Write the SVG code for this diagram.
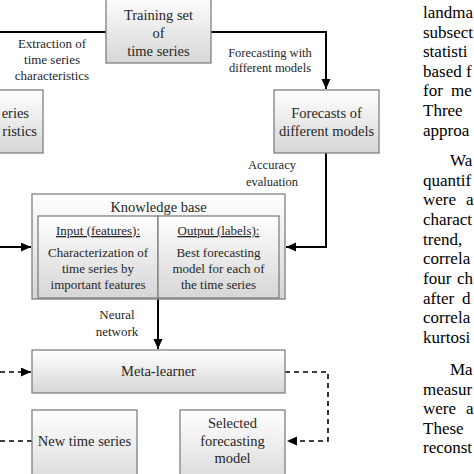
<svg xmlns="http://www.w3.org/2000/svg" width="474" height="474" viewBox="0 0 474 474">
<defs>
<linearGradient id="g" x1="0" y1="0" x2="0" y2="1">
<stop offset="0" stop-color="#ffffff"/>
<stop offset="1" stop-color="#d6d6d6"/>
</linearGradient>
<marker id="ah" markerUnits="userSpaceOnUse" markerWidth="11" markerHeight="10" refX="10" refY="4.5" orient="auto">
<path d="M0,0 L10,4.5 L0,9 Z" fill="#000"/>
</marker>
<style>
.box{fill:url(#g);stroke:#808080;stroke-width:1.3}
.t{font-family:"Liberation Serif","Times New Roman",serif;fill:#262626;text-anchor:middle}
.e{text-anchor:end}
.b{font-size:14.5px}
.s{font-size:13px}
.l{font-size:13px}
.c{fill:none;stroke:#000;stroke-width:2}
.d{fill:none;stroke:#000;stroke-width:1.6;stroke-dasharray:5,4}
.p{font-family:"Liberation Serif","Times New Roman",serif;font-size:17px;fill:#000}
</style>
</defs>
<rect width="474" height="474" fill="#fff"/>

<g id="connectors">
<path class="c" d="M106,32 H0"/>
<path class="c" d="M211,32 H326 V89" marker-end="url(#ah)"/>
<path class="c" d="M326,153 V247 H286" marker-end="url(#ah)"/>
<path class="c" d="M0,247 H31" marker-end="url(#ah)"/>
<path class="c" d="M158,287 V349" marker-end="url(#ah)"/>
<path class="d" d="M0,372 H31" marker-end="url(#ah)"/>
<path class="d" d="M285,372 H328 V441 H287" marker-end="url(#ah)"/>
<path class="d" d="M0,441 H32"/>
<text class="t l" x="52" y="48">Extraction of</text>
<text class="t l" x="52" y="64">time series</text>
<text class="t l" x="52" y="80">characteristics</text>
<text class="t" style="font-size:12.5px" x="270" y="57">Forecasting with</text>
<text class="t" style="font-size:12.5px" x="270" y="72">different models</text>
<text class="t" style="font-size:12.5px" x="272" y="169">Accuracy</text>
<text class="t" style="font-size:12.5px" x="272" y="186">evaluation</text>
<text class="t l" x="117" y="319">Neural</text>
<text class="t l" x="117" y="336">network</text>
</g>

<g id="training-set">
<rect class="box" x="106" y="-6" width="105" height="69"/>
<text class="t b" x="158.5" y="20">Training set</text>
<text class="t b" x="158.5" y="38">of</text>
<text class="t b" x="158.5" y="56">time series</text>
</g>

<g id="time-series-characteristics">
<rect class="box" x="-62" y="90" width="105" height="63"/>
<text class="t b e" x="29" y="118">eries</text>
<text class="t b e" x="37" y="136">ristics</text>
</g>

<g id="forecasts">
<rect class="box" x="274" y="90" width="105" height="63"/>
<text class="t b" x="326.5" y="118">Forecasts of</text>
<text class="t b" x="326.5" y="136">different models</text>
</g>

<g id="knowledge-base">
<rect class="box" x="32" y="194" width="253" height="105"/>
<text class="t b" x="158.5" y="212">Knowledge base</text>
<rect class="box" x="38" y="216" width="120" height="82"/>
<rect class="box" x="158" y="216" width="121" height="82"/>
<text class="t s" x="98" y="235" text-decoration="underline">Input (features):</text>
<text class="t s" x="98" y="257">Characterization of</text>
<text class="t s" x="98" y="273">time series by</text>
<text class="t s" x="98" y="289">important features</text>
<text class="t s" x="218.5" y="235" text-decoration="underline">Output (labels):</text>
<text class="t s" x="218.5" y="257">Best forecasting</text>
<text class="t s" x="218.5" y="273">model for each of</text>
<text class="t s" x="218.5" y="289">the time series</text>
</g>

<g id="meta-learner">
<rect class="box" x="32" y="350" width="253" height="43"/>
<text class="t b" x="158.5" y="376">Meta-learner</text>
</g>

<g id="new-time-series">
<rect class="box" x="32" y="410" width="105" height="80"/>
<text class="t b" x="84.5" y="446">New time series</text>
</g>

<g id="selected-model">
<rect class="box" x="180" y="410" width="105" height="80"/>
<text class="t b" x="232.5" y="428">Selected</text>
<text class="t b" x="232.5" y="446">forecasting</text>
<text class="t b" x="232.5" y="463">model</text>
</g>

<g id="body-text">
<text class="p" x="423" y="18">landma</text>
<text class="p" x="423" y="38">subsect</text>
<text class="p" x="423" y="57">statisti</text>
<text class="p" x="423" y="77">based f</text>
<text class="p" x="423" y="96">for</text>
<text class="p" x="451" y="96">me</text>
<text class="p" x="423" y="116">Three</text>
<text class="p" x="423" y="136">approa</text>
<text class="p" x="450" y="166">Wa</text>
<text class="p" x="423" y="186">quantif</text>
<text class="p" x="423" y="205">were</text>
<text class="p" x="466" y="205">a</text>
<text class="p" x="423" y="225">charact</text>
<text class="p" x="423" y="245">trend,</text>
<text class="p" x="423" y="264">correla</text>
<text class="p" x="423" y="284">four</text>
<text class="p" x="457" y="284">ch</text>
<text class="p" x="423" y="304">after</text>
<text class="p" x="462" y="304">d</text>
<text class="p" x="423" y="323">correla</text>
<text class="p" x="423" y="343">kurtosi</text>
<text class="p" x="450" y="375">Ma</text>
<text class="p" x="423" y="395">measur</text>
<text class="p" x="423" y="414">were</text>
<text class="p" x="466" y="414">a</text>
<text class="p" x="423" y="434">These</text>
<text class="p" x="423" y="453">reconst</text>
</g>
</svg>
